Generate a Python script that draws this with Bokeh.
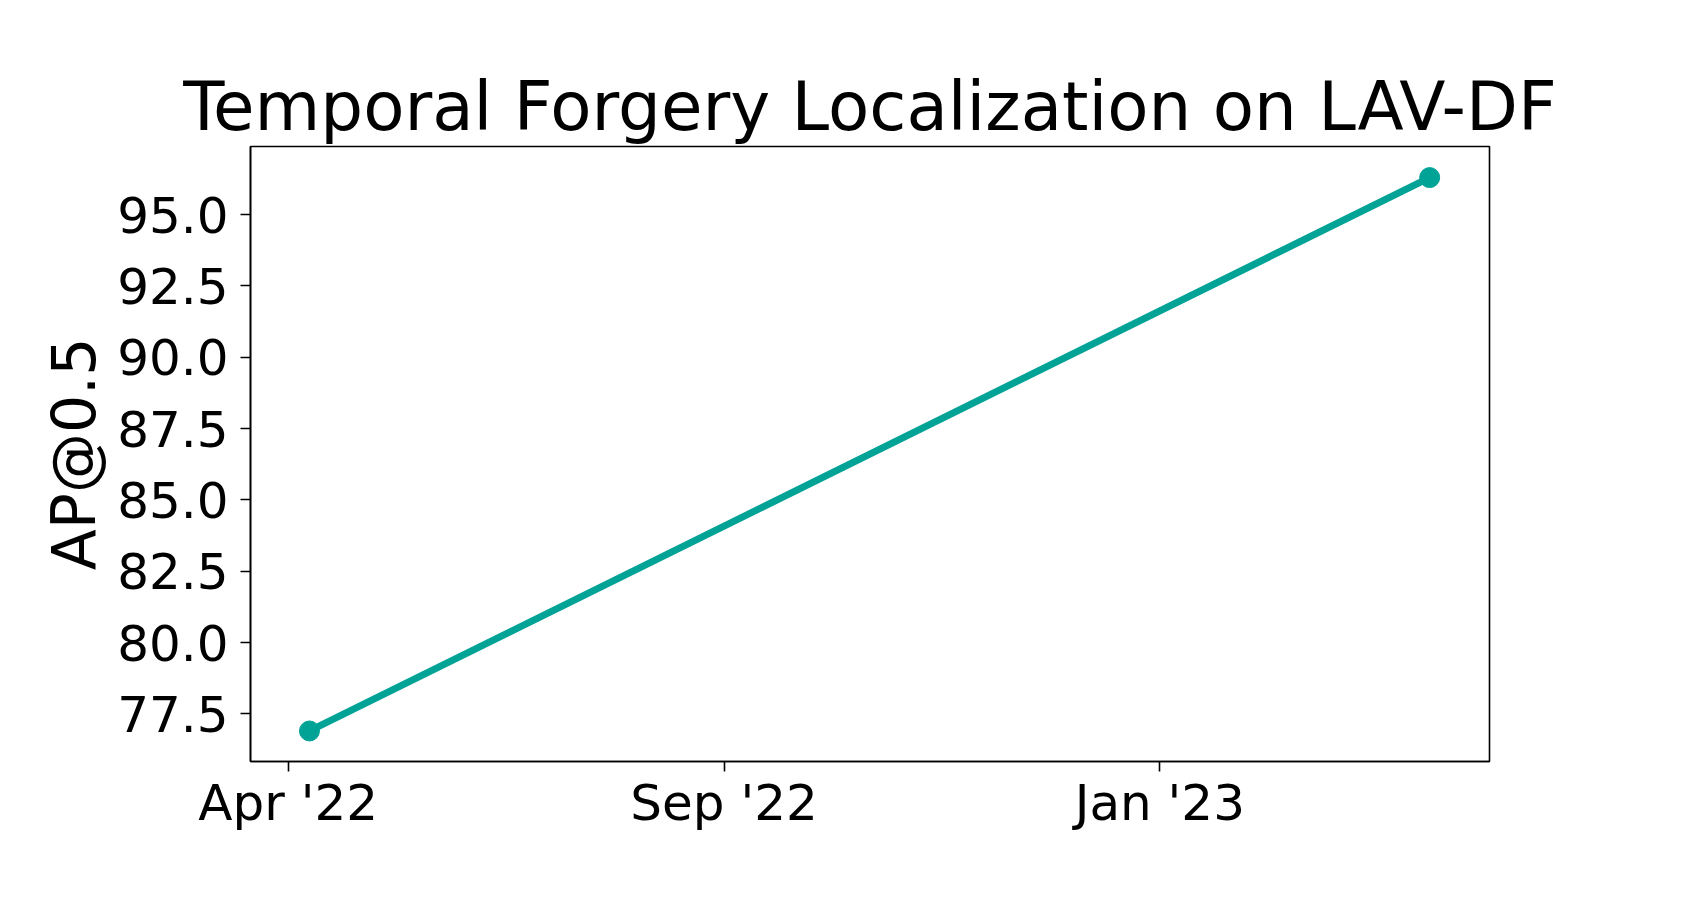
import pandas as pd
from bokeh.plotting import figure
from bokeh.models import Range1d, FixedTicker, ColumnDataSource, CustomJSTickFormatter
from bokeh.embed import file_html
from bokeh.resources import INLINE

# ---- data ----
release_dates = ["2022-04-22", "2023-04-14"]
ap_at_05 = [76.9, 96.3]
tick_epoch_seconds = [1650000000, 1662000000, 1674000000]
tick_labels = ["Apr '22", "Sep '22", "Jan '23"]
y_ticks = [77.5, 80.0, 82.5, 85.0, 87.5, 90.0, 92.5, 95.0]

TEAL = "#00A396"
FONT = "DejaVu Sans"

src = ColumnDataSource(dict(x=pd.to_datetime(release_dates), y=ap_at_05))

x_start = 1648962000000
x_end = 1683078000000

p = figure(
    x_axis_type="datetime",
    frame_width=1239, frame_height=615,
    min_border_left=250, min_border_right=195,
    min_border_top=146, min_border_bottom=115,
    x_range=Range1d(x_start, x_end),
    y_range=Range1d(75.83, 97.39),
    output_backend="svg", toolbar_location=None,
    title="Temporal Forgery Localization on LAV-DF",
)

p.line("x", "y", source=src, line_width=7, line_color=TEAL)
p.scatter("x", "y", source=src, size=20, fill_color=TEAL, line_color=TEAL)

p.title.text_font = FONT
p.title.text_font_size = "67.5px"
p.title.text_font_style = "normal"
p.title.align = "center"
p.title.standoff = 2
p.title.text_color = "black"

p.xgrid.visible = False
p.ygrid.visible = False
p.outline_line_color = "black"
p.outline_line_width = 1.6
p.outline_line_alpha = 1
p.background_fill_color = "white"
p.border_fill_color = "white"

xt = [t * 1000 for t in tick_epoch_seconds]
p.xaxis.ticker = FixedTicker(ticks=xt)
p.xaxis.major_label_overrides = {t: lab for t, lab in zip(xt, tick_labels)}
p.yaxis.ticker = FixedTicker(ticks=y_ticks)
p.yaxis.formatter = CustomJSTickFormatter(code="return tick.toFixed(1);")
p.yaxis.axis_label = "AP@0.5"

for ax in (p.xaxis[0], p.yaxis[0]):
    ax.axis_line_color = "black"
    ax.axis_line_width = 1.6
    ax.major_tick_line_color = "black"
    ax.major_tick_line_width = 1.6
    ax.major_tick_out = 10
    ax.major_tick_in = 0
    ax.minor_tick_line_color = None
    ax.major_label_text_font = FONT
    ax.major_label_text_font_size = "50px"
    ax.major_label_text_color = "black"

p.xaxis.major_label_standoff = 2
p.yaxis.major_label_standoff = 12
p.yaxis.axis_label_text_font = FONT
p.yaxis.axis_label_text_font_size = "60px"
p.yaxis.axis_label_text_font_style = "normal"
p.yaxis.axis_label_text_color = "black"
p.yaxis.axis_label_standoff = 5

open("out.html", "w").write(file_html(p, INLINE))
